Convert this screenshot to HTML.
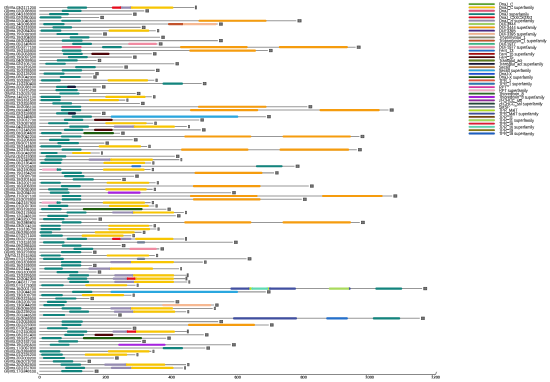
<!DOCTYPE html><html><head><meta charset="utf-8"><style>html,body{margin:0;padding:0;background:#fff;}svg{display:block;}text{font-family:"Liberation Sans",Arial,sans-serif;text-rendering:geometricPrecision;}</style></head><body>
<svg width="550" height="382" viewBox="0 0 550 382">
<rect width="550" height="382" fill="#fff"/>
<g font-size="4.0" fill="#222" stroke="#222" stroke-width="0.07" text-anchor="end">
<text transform="matrix(0.945 0.0047 0 1 36.0 9.00)">Glyma.03G171200</text>
<text transform="matrix(0.945 0.0047 0 1 36.0 12.31)">Glyma.02G038800</text>
<text transform="matrix(0.945 0.0047 0 1 36.0 15.61)">Glyma.04G188900</text>
<text transform="matrix(0.945 0.0047 0 1 36.0 18.92)">Glyma.02G260300</text>
<text transform="matrix(0.945 0.0047 0 1 36.0 22.22)">Glyma.02G045600</text>
<text transform="matrix(0.945 0.0047 0 1 36.0 25.53)">Glyma.14G036300</text>
<text transform="matrix(0.945 0.0047 0 1 36.0 28.84)">Glyma.03G218000</text>
<text transform="matrix(0.945 0.0047 0 1 36.0 32.14)">Glyma.19G064300</text>
<text transform="matrix(0.945 0.0047 0 1 36.0 35.45)">Glyma.19G032900</text>
<text transform="matrix(0.945 0.0047 0 1 36.0 38.75)">Glyma.19G204000</text>
<text transform="matrix(0.945 0.0047 0 1 36.0 42.06)">Glyma.08G024800</text>
<text transform="matrix(0.945 0.0047 0 1 36.0 45.37)">Glyma.05G149600</text>
<text transform="matrix(0.945 0.0047 0 1 36.0 48.67)">Glyma.05G277100</text>
<text transform="matrix(0.945 0.0047 0 1 36.0 51.98)">Glyma.19G158800</text>
<text transform="matrix(0.945 0.0047 0 1 36.0 55.28)">Glyma.06G053900</text>
<text transform="matrix(0.945 0.0047 0 1 36.0 58.59)">Glyma.19G097500</text>
<text transform="matrix(0.945 0.0047 0 1 36.0 61.90)">Glyma.04G033900</text>
<text transform="matrix(0.945 0.0047 0 1 36.0 65.20)">Glyma.02G106700</text>
<text transform="matrix(0.945 0.0047 0 1 36.0 68.51)">Glyma.18G219500</text>
<text transform="matrix(0.945 0.0047 0 1 36.0 71.81)">Glyma.15G233500</text>
<text transform="matrix(0.945 0.0047 0 1 36.0 75.12)">Glyma.10G128200</text>
<text transform="matrix(0.945 0.0047 0 1 36.0 78.43)">Glyma.08G042900</text>
<text transform="matrix(0.945 0.0047 0 1 36.0 81.73)">Glyma.10G269700</text>
<text transform="matrix(0.945 0.0047 0 1 36.0 85.04)">Glyma.11G230400</text>
<text transform="matrix(0.945 0.0047 0 1 36.0 88.34)">Glyma.20G038100</text>
<text transform="matrix(0.945 0.0047 0 1 36.0 91.65)">Glyma.17G215200</text>
<text transform="matrix(0.945 0.0047 0 1 36.0 94.96)">Glyma.11G078700</text>
<text transform="matrix(0.945 0.0047 0 1 36.0 98.26)">Glyma.14G021100</text>
<text transform="matrix(0.945 0.0047 0 1 36.0 101.57)">Glyma.18G161500</text>
<text transform="matrix(0.945 0.0047 0 1 36.0 104.87)">Glyma.12G255900</text>
<text transform="matrix(0.945 0.0047 0 1 36.0 108.18)">Glyma.15G036100</text>
<text transform="matrix(0.945 0.0047 0 1 36.0 111.49)">Glyma.09G243100</text>
<text transform="matrix(0.945 0.0047 0 1 36.0 114.79)">Glyma.02G159900</text>
<text transform="matrix(0.945 0.0047 0 1 36.0 118.10)">Glyma.15G146600</text>
<text transform="matrix(0.945 0.0047 0 1 36.0 121.40)">Glyma.12G012700</text>
<text transform="matrix(0.945 0.0047 0 1 36.0 124.71)">Glyma.12G087900</text>
<text transform="matrix(0.945 0.0047 0 1 36.0 128.02)">Glyma.04G253000</text>
<text transform="matrix(0.945 0.0047 0 1 36.0 131.32)">Glyma.07G148200</text>
<text transform="matrix(0.945 0.0047 0 1 36.0 134.63)">Glyma.08G204600</text>
<text transform="matrix(0.945 0.0047 0 1 36.0 137.93)">Glyma.16G042200</text>
<text transform="matrix(0.945 0.0047 0 1 36.0 141.24)">Glyma.15G206800</text>
<text transform="matrix(0.945 0.0047 0 1 36.0 144.55)">Glyma.09G071600</text>
<text transform="matrix(0.945 0.0047 0 1 36.0 147.85)">Glyma.18G143600</text>
<text transform="matrix(0.945 0.0047 0 1 36.0 151.16)">Glyma.12G195300</text>
<text transform="matrix(0.945 0.0047 0 1 36.0 154.46)">Glyma.05G043200</text>
<text transform="matrix(0.945 0.0047 0 1 36.0 157.77)">Glyma.05G119300</text>
<text transform="matrix(0.945 0.0047 0 1 36.0 161.08)">Glyma.01G249900</text>
<text transform="matrix(0.945 0.0047 0 1 36.0 164.38)">Glyma.06G135400</text>
<text transform="matrix(0.945 0.0047 0 1 36.0 167.69)">Glyma.01G075600</text>
<text transform="matrix(0.945 0.0047 0 1 36.0 170.99)">Glyma.18G190900</text>
<text transform="matrix(0.945 0.0047 0 1 36.0 174.30)">Glyma.19G164200</text>
<text transform="matrix(0.945 0.0047 0 1 36.0 177.61)">Glyma.17G028700</text>
<text transform="matrix(0.945 0.0047 0 1 36.0 180.91)">Glyma.18G201600</text>
<text transform="matrix(0.945 0.0047 0 1 36.0 184.22)">Glyma.13G202100</text>
<text transform="matrix(0.945 0.0047 0 1 36.0 187.52)">Glyma.16G206000</text>
<text transform="matrix(0.945 0.0047 0 1 36.0 190.83)">Glyma.07G035300</text>
<text transform="matrix(0.945 0.0047 0 1 36.0 194.14)">Glyma.15G084100</text>
<text transform="matrix(0.945 0.0047 0 1 36.0 197.44)">Glyma.11G027100</text>
<text transform="matrix(0.945 0.0047 0 1 36.0 200.75)">Glyma.01G078800</text>
<text transform="matrix(0.945 0.0047 0 1 36.0 204.05)">Glyma.04G187900</text>
<text transform="matrix(0.945 0.0047 0 1 36.0 207.36)">Glyma.01G037300</text>
<text transform="matrix(0.945 0.0047 0 1 36.0 210.67)">Glyma.20G193200</text>
<text transform="matrix(0.945 0.0047 0 1 36.0 213.97)">Glyma.09G178900</text>
<text transform="matrix(0.945 0.0047 0 1 36.0 217.28)">Glyma.12G243100</text>
<text transform="matrix(0.945 0.0047 0 1 36.0 220.58)">Glyma.04G250700</text>
<text transform="matrix(0.945 0.0047 0 1 36.0 223.89)">Glyma.16G248400</text>
<text transform="matrix(0.945 0.0047 0 1 36.0 227.20)">Glyma.03G074100</text>
<text transform="matrix(0.945 0.0047 0 1 36.0 230.50)">Glyma.11G136700</text>
<text transform="matrix(0.945 0.0047 0 1 36.0 233.81)">Glyma.06G265000</text>
<text transform="matrix(0.945 0.0047 0 1 36.0 237.11)">Glyma.07G271500</text>
<text transform="matrix(0.945 0.0047 0 1 36.0 240.42)">Glyma.05G279000</text>
<text transform="matrix(0.945 0.0047 0 1 36.0 243.73)">Glyma.17G153100</text>
<text transform="matrix(0.945 0.0047 0 1 36.0 247.03)">Glyma.09G266500</text>
<text transform="matrix(0.945 0.0047 0 1 36.0 250.34)">Glyma.06G183300</text>
<text transform="matrix(0.945 0.0047 0 1 36.0 253.64)">Glyma.18G278800</text>
<text transform="matrix(0.945 0.0047 0 1 36.0 256.95)">Glyma.11G115900</text>
<text transform="matrix(0.945 0.0047 0 1 36.0 260.26)">Glyma.07G123600</text>
<text transform="matrix(0.945 0.0047 0 1 36.0 263.56)">Glyma.08G103800</text>
<text transform="matrix(0.945 0.0047 0 1 36.0 266.87)">Glyma.16G183000</text>
<text transform="matrix(0.945 0.0047 0 1 36.0 270.17)">Glyma.01G144700</text>
<text transform="matrix(0.945 0.0047 0 1 36.0 273.48)">Glyma.09G100900</text>
<text transform="matrix(0.945 0.0047 0 1 36.0 276.79)">Glyma.12G229500</text>
<text transform="matrix(0.945 0.0047 0 1 36.0 280.09)">Glyma.12G042300</text>
<text transform="matrix(0.945 0.0047 0 1 36.0 283.40)">Glyma.04G117700</text>
<text transform="matrix(0.945 0.0047 0 1 36.0 286.70)">Glyma.07G173300</text>
<text transform="matrix(0.945 0.0047 0 1 36.0 290.01)">Glyma.16G001700</text>
<text transform="matrix(0.945 0.0047 0 1 36.0 293.32)">Glyma.12G044100</text>
<text transform="matrix(0.945 0.0047 0 1 36.0 296.62)">Glyma.13G103700</text>
<text transform="matrix(0.945 0.0047 0 1 36.0 299.93)">Glyma.06G223500</text>
<text transform="matrix(0.945 0.0047 0 1 36.0 303.23)">Glyma.03G203700</text>
<text transform="matrix(0.945 0.0047 0 1 36.0 306.54)">Glyma.13G044200</text>
<text transform="matrix(0.945 0.0047 0 1 36.0 309.85)">Glyma.06G066000</text>
<text transform="matrix(0.945 0.0047 0 1 36.0 313.15)">Glyma.05G239200</text>
<text transform="matrix(0.945 0.0047 0 1 36.0 316.46)">Glyma.20G243500</text>
<text transform="matrix(0.945 0.0047 0 1 36.0 319.76)">Glyma.05G068000</text>
<text transform="matrix(0.945 0.0047 0 1 36.0 323.07)">Glyma.01G053800</text>
<text transform="matrix(0.945 0.0047 0 1 36.0 326.38)">Glyma.05G223300</text>
<text transform="matrix(0.945 0.0047 0 1 36.0 329.68)">Glyma.07G015400</text>
<text transform="matrix(0.945 0.0047 0 1 36.0 332.99)">Glyma.07G150800</text>
<text transform="matrix(0.945 0.0047 0 1 36.0 336.29)">Glyma.08G167400</text>
<text transform="matrix(0.945 0.0047 0 1 36.0 339.60)">Glyma.18G215200</text>
<text transform="matrix(0.945 0.0047 0 1 36.0 342.91)">Glyma.02G182700</text>
<text transform="matrix(0.945 0.0047 0 1 36.0 346.21)">Glyma.19G265600</text>
<text transform="matrix(0.945 0.0047 0 1 36.0 349.52)">Glyma.17G067800</text>
<text transform="matrix(0.945 0.0047 0 1 36.0 352.82)">Glyma.05G269800</text>
<text transform="matrix(0.945 0.0047 0 1 36.0 356.13)">Glyma.01G226200</text>
<text transform="matrix(0.945 0.0047 0 1 36.0 359.44)">Glyma.20G003200</text>
<text transform="matrix(0.945 0.0047 0 1 36.0 362.74)">Glyma.06G073700</text>
<text transform="matrix(0.945 0.0047 0 1 36.0 366.05)">Glyma.20G062800</text>
<text transform="matrix(0.945 0.0047 0 1 36.0 369.35)">Glyma.02G167800</text>
<text transform="matrix(0.945 0.0047 0 1 36.0 372.66)">Glyma.17G248100</text>
</g>
<g stroke="#979797" stroke-width="1.05">
<line x1="39.3" y1="7.55" x2="194.3" y2="7.55"/>
<line x1="39.3" y1="10.86" x2="144.2" y2="10.86"/>
<line x1="39.3" y1="14.16" x2="131.9" y2="14.16"/>
<line x1="39.3" y1="17.47" x2="99.1" y2="17.47"/>
<line x1="39.3" y1="20.77" x2="296.3" y2="20.77"/>
<line x1="39.3" y1="24.08" x2="217.8" y2="24.08"/>
<line x1="39.3" y1="27.39" x2="140.7" y2="27.39"/>
<line x1="39.3" y1="30.69" x2="155.8" y2="30.69"/>
<line x1="39.3" y1="34.00" x2="101.9" y2="34.00"/>
<line x1="39.3" y1="37.30" x2="160.1" y2="37.30"/>
<line x1="39.3" y1="40.61" x2="217.8" y2="40.61"/>
<line x1="39.3" y1="43.92" x2="157.6" y2="43.92"/>
<line x1="39.3" y1="47.22" x2="355.6" y2="47.22"/>
<line x1="39.3" y1="50.53" x2="267.8" y2="50.53"/>
<line x1="39.3" y1="53.83" x2="151.8" y2="53.83"/>
<line x1="39.3" y1="57.14" x2="131.9" y2="57.14"/>
<line x1="39.3" y1="60.45" x2="96.6" y2="60.45"/>
<line x1="39.3" y1="63.75" x2="174.3" y2="63.75"/>
<line x1="39.3" y1="67.06" x2="123.2" y2="67.06"/>
<line x1="39.3" y1="70.36" x2="154.8" y2="70.36"/>
<line x1="39.3" y1="73.67" x2="94.1" y2="73.67"/>
<line x1="39.3" y1="76.98" x2="92.1" y2="76.98"/>
<line x1="39.3" y1="80.28" x2="154.3" y2="80.28"/>
<line x1="39.3" y1="83.59" x2="201.7" y2="83.59"/>
<line x1="39.3" y1="86.89" x2="100.8" y2="86.89"/>
<line x1="39.3" y1="90.20" x2="91.6" y2="90.20"/>
<line x1="39.3" y1="93.51" x2="135.7" y2="93.51"/>
<line x1="39.3" y1="96.81" x2="151.8" y2="96.81"/>
<line x1="39.3" y1="100.12" x2="125.2" y2="100.12"/>
<line x1="39.3" y1="103.42" x2="139.9" y2="103.42"/>
<line x1="39.3" y1="106.73" x2="307.3" y2="106.73"/>
<line x1="39.3" y1="110.04" x2="388.5" y2="110.04"/>
<line x1="39.3" y1="113.34" x2="100.8" y2="113.34"/>
<line x1="39.3" y1="116.65" x2="265.9" y2="116.65"/>
<line x1="39.3" y1="119.95" x2="199.2" y2="119.95"/>
<line x1="39.3" y1="123.26" x2="153.1" y2="123.26"/>
<line x1="39.3" y1="126.57" x2="186.8" y2="126.57"/>
<line x1="39.3" y1="129.87" x2="200.8" y2="129.87"/>
<line x1="39.3" y1="133.18" x2="120.0" y2="133.18"/>
<line x1="39.3" y1="136.48" x2="359.4" y2="136.48"/>
<line x1="39.3" y1="139.79" x2="132.7" y2="139.79"/>
<line x1="39.3" y1="143.10" x2="104.3" y2="143.10"/>
<line x1="39.3" y1="146.40" x2="147.1" y2="146.40"/>
<line x1="39.3" y1="149.71" x2="356.8" y2="149.71"/>
<line x1="39.3" y1="153.01" x2="99.8" y2="153.01"/>
<line x1="39.3" y1="156.32" x2="174.8" y2="156.32"/>
<line x1="39.3" y1="159.63" x2="179.3" y2="159.63"/>
<line x1="39.3" y1="162.93" x2="151.1" y2="162.93"/>
<line x1="39.3" y1="166.24" x2="294.5" y2="166.24"/>
<line x1="39.3" y1="169.54" x2="150.6" y2="169.54"/>
<line x1="39.3" y1="172.85" x2="274.0" y2="172.85"/>
<line x1="39.3" y1="176.16" x2="134.0" y2="176.16"/>
<line x1="39.3" y1="179.46" x2="121.1" y2="179.46"/>
<line x1="39.3" y1="182.77" x2="155.6" y2="182.77"/>
<line x1="39.3" y1="186.07" x2="308.8" y2="186.07"/>
<line x1="39.3" y1="189.38" x2="152.6" y2="189.38"/>
<line x1="39.3" y1="192.69" x2="231.0" y2="192.69"/>
<line x1="39.3" y1="195.99" x2="392.2" y2="195.99"/>
<line x1="39.3" y1="199.30" x2="301.8" y2="199.30"/>
<line x1="39.3" y1="202.60" x2="150.6" y2="202.60"/>
<line x1="39.3" y1="205.91" x2="154.3" y2="205.91"/>
<line x1="39.3" y1="209.22" x2="166.3" y2="209.22"/>
<line x1="39.3" y1="212.52" x2="183.8" y2="212.52"/>
<line x1="39.3" y1="215.83" x2="175.8" y2="215.83"/>
<line x1="39.3" y1="219.13" x2="97.3" y2="219.13"/>
<line x1="39.3" y1="222.44" x2="359.8" y2="222.44"/>
<line x1="39.3" y1="225.75" x2="152.4" y2="225.75"/>
<line x1="39.3" y1="229.05" x2="156.3" y2="229.05"/>
<line x1="39.3" y1="232.36" x2="141.6" y2="232.36"/>
<line x1="39.3" y1="235.66" x2="131.2" y2="235.66"/>
<line x1="39.3" y1="238.97" x2="184.3" y2="238.97"/>
<line x1="39.3" y1="242.28" x2="232.8" y2="242.28"/>
<line x1="39.3" y1="245.58" x2="120.7" y2="245.58"/>
<line x1="39.3" y1="248.89" x2="159.3" y2="248.89"/>
<line x1="39.3" y1="252.19" x2="91.9" y2="252.19"/>
<line x1="39.3" y1="255.50" x2="154.8" y2="255.50"/>
<line x1="39.3" y1="258.81" x2="246.5" y2="258.81"/>
<line x1="39.3" y1="262.11" x2="202.8" y2="262.11"/>
<line x1="39.3" y1="265.42" x2="91.9" y2="265.42"/>
<line x1="39.3" y1="268.72" x2="179.0" y2="268.72"/>
<line x1="39.3" y1="272.03" x2="96.6" y2="272.03"/>
<line x1="39.3" y1="275.34" x2="186.6" y2="275.34"/>
<line x1="39.3" y1="278.64" x2="185.4" y2="278.64"/>
<line x1="39.3" y1="281.95" x2="187.2" y2="281.95"/>
<line x1="39.3" y1="285.25" x2="135.5" y2="285.25"/>
<line x1="39.3" y1="288.56" x2="422.1" y2="288.56"/>
<line x1="39.3" y1="291.87" x2="265.8" y2="291.87"/>
<line x1="39.3" y1="295.17" x2="131.4" y2="295.17"/>
<line x1="39.3" y1="298.48" x2="89.3" y2="298.48"/>
<line x1="39.3" y1="301.78" x2="174.4" y2="301.78"/>
<line x1="39.3" y1="305.09" x2="214.0" y2="305.09"/>
<line x1="39.3" y1="308.40" x2="212.7" y2="308.40"/>
<line x1="39.3" y1="311.70" x2="186.1" y2="311.70"/>
<line x1="39.3" y1="315.01" x2="117.0" y2="315.01"/>
<line x1="39.3" y1="318.31" x2="419.8" y2="318.31"/>
<line x1="39.3" y1="321.62" x2="218.2" y2="321.62"/>
<line x1="39.3" y1="324.93" x2="268.8" y2="324.93"/>
<line x1="39.3" y1="328.23" x2="131.6" y2="328.23"/>
<line x1="39.3" y1="331.54" x2="186.8" y2="331.54"/>
<line x1="39.3" y1="334.84" x2="203.8" y2="334.84"/>
<line x1="39.3" y1="338.15" x2="166.1" y2="338.15"/>
<line x1="39.3" y1="341.46" x2="141.1" y2="341.46"/>
<line x1="39.3" y1="344.76" x2="230.8" y2="344.76"/>
<line x1="39.3" y1="348.07" x2="205.2" y2="348.07"/>
<line x1="39.3" y1="351.37" x2="151.3" y2="351.37"/>
<line x1="39.3" y1="354.68" x2="135.3" y2="354.68"/>
<line x1="39.3" y1="357.99" x2="113.9" y2="357.99"/>
<line x1="39.3" y1="361.29" x2="86.4" y2="361.29"/>
<line x1="39.3" y1="364.60" x2="186.0" y2="364.60"/>
<line x1="39.3" y1="367.90" x2="182.9" y2="367.90"/>
<line x1="39.3" y1="371.21" x2="93.5" y2="371.21"/>
</g>
<rect x="67.1" y="6.45" width="20.0" height="2.2" rx="1" fill="#12847d"/>
<rect x="111.8" y="6.45" width="9.3" height="2.2" rx="1" fill="#e60a1a"/>
<rect x="119.9" y="6.45" width="1.2" height="2.2" fill="#e60a1a"/>
<rect x="121.1" y="6.45" width="10.0" height="2.2" rx="1" fill="#958bb0"/>
<rect x="121.1" y="6.45" width="1.2" height="2.2" fill="#958bb0"/>
<rect x="129.9" y="6.45" width="1.2" height="2.2" fill="#958bb0"/>
<rect x="131.1" y="6.45" width="42.4" height="2.2" rx="1" fill="#f7c502"/>
<rect x="131.1" y="6.45" width="1.2" height="2.2" fill="#f7c502"/>
<rect x="194.95" y="5.55" width="1.9" height="3.8" fill="#5e5e5e"/>
<rect x="61.7" y="9.76" width="19.9" height="2.2" rx="1" fill="#12847d"/>
<rect x="145.4" y="9.26" width="3.6" height="3.2" fill="#545454"/>
<path d="M147.20 9.26v3.2M145.4 10.86h3.6" stroke="#959595" stroke-width="0.45"/>
<rect x="49.0" y="13.06" width="19.9" height="2.2" rx="1" fill="#12847d"/>
<rect x="133.1" y="12.56" width="3.5" height="3.2" fill="#545454"/>
<path d="M134.85 12.56v3.2M133.1 14.16h3.5" stroke="#959595" stroke-width="0.45"/>
<rect x="39.7" y="16.37" width="21.9" height="2.2" rx="1" fill="#12847d"/>
<rect x="100.3" y="15.87" width="3.6" height="3.2" fill="#545454"/>
<path d="M102.10 15.87v3.2M100.3 17.47h3.6" stroke="#959595" stroke-width="0.45"/>
<rect x="61.2" y="19.67" width="19.9" height="2.2" rx="1" fill="#12847d"/>
<rect x="198.4" y="19.67" width="68.2" height="2.2" rx="1" fill="#f59c0e"/>
<rect x="297.5" y="19.17" width="4.0" height="3.2" fill="#545454"/>
<path d="M299.50 19.17v3.2M297.5 20.77h4.0" stroke="#959595" stroke-width="0.45"/>
<rect x="43.2" y="22.98" width="21.4" height="2.2" rx="1" fill="#12847d"/>
<rect x="168.0" y="22.98" width="15.0" height="2.2" rx="1" fill="#c2532c"/>
<rect x="181.8" y="22.98" width="1.2" height="2.2" fill="#c2532c"/>
<rect x="183.0" y="22.98" width="33.6" height="2.2" rx="1" fill="#f6b892"/>
<rect x="183.0" y="22.98" width="1.2" height="2.2" fill="#f6b892"/>
<rect x="219.0" y="22.48" width="3.8" height="3.2" fill="#545454"/>
<path d="M220.90 22.48v3.2M219.0 24.08h3.8" stroke="#959595" stroke-width="0.45"/>
<rect x="52.4" y="26.29" width="19.7" height="2.2" rx="1" fill="#12847d"/>
<rect x="141.9" y="25.79" width="3.6" height="3.2" fill="#545454"/>
<path d="M143.70 25.79v3.2M141.9 27.39h3.6" stroke="#959595" stroke-width="0.45"/>
<rect x="40.5" y="29.59" width="20.9" height="2.2" rx="1" fill="#12847d"/>
<rect x="108.5" y="29.59" width="40.8" height="2.2" rx="1" fill="#f7c502"/>
<rect x="157.0" y="29.09" width="2.2" height="3.2" fill="#545454"/>
<path d="M158.10 29.09v3.2M157.0 30.69h2.2" stroke="#959595" stroke-width="0.45"/>
<rect x="56.4" y="32.90" width="21.9" height="2.2" rx="1" fill="#12847d"/>
<rect x="103.1" y="32.40" width="3.8" height="3.2" fill="#545454"/>
<path d="M105.00 32.40v3.2M103.1 34.00h3.8" stroke="#959595" stroke-width="0.45"/>
<rect x="69.6" y="36.20" width="19.9" height="2.2" rx="1" fill="#12847d"/>
<rect x="161.3" y="35.70" width="3.5" height="3.2" fill="#545454"/>
<path d="M163.05 35.70v3.2M161.3 37.30h3.5" stroke="#959595" stroke-width="0.45"/>
<rect x="61.7" y="39.51" width="20.9" height="2.2" rx="1" fill="#12847d"/>
<rect x="219.0" y="39.01" width="3.8" height="3.2" fill="#545454"/>
<path d="M220.90 39.01v3.2M219.0 40.61h3.8" stroke="#959595" stroke-width="0.45"/>
<rect x="72.1" y="42.82" width="19.9" height="2.2" rx="1" fill="#12847d"/>
<rect x="128.2" y="42.82" width="28.6" height="2.2" rx="1" fill="#f08ba2"/>
<rect x="158.8" y="42.32" width="3.7" height="3.2" fill="#545454"/>
<path d="M160.65 42.32v3.2M158.8 43.92h3.7" stroke="#959595" stroke-width="0.45"/>
<rect x="61.7" y="46.12" width="19.9" height="2.2" rx="1" fill="#e6557b"/>
<rect x="102.0" y="46.12" width="19.9" height="2.2" rx="1" fill="#12847d"/>
<rect x="180.0" y="46.12" width="67.7" height="2.2" rx="1" fill="#f59c0e"/>
<rect x="278.8" y="46.12" width="69.1" height="2.2" rx="1" fill="#f59c0e"/>
<rect x="356.8" y="45.62" width="3.8" height="3.2" fill="#545454"/>
<path d="M358.70 45.62v3.2M356.8 47.22h3.8" stroke="#959595" stroke-width="0.45"/>
<rect x="61.7" y="49.43" width="19.9" height="2.2" rx="1" fill="#12847d"/>
<rect x="189.2" y="49.43" width="66.8" height="2.2" rx="1" fill="#f59c0e"/>
<rect x="269.0" y="48.93" width="3.6" height="3.2" fill="#545454"/>
<path d="M270.80 48.93v3.2M269.0 50.53h3.6" stroke="#959595" stroke-width="0.45"/>
<rect x="62.9" y="52.73" width="19.9" height="2.2" rx="1" fill="#12847d"/>
<rect x="91.3" y="52.73" width="18.2" height="2.2" rx="1" fill="#4e0509"/>
<rect x="153.0" y="52.23" width="3.5" height="3.2" fill="#545454"/>
<path d="M154.75 52.23v3.2M153.0 53.83h3.5" stroke="#959595" stroke-width="0.45"/>
<rect x="67.9" y="56.04" width="19.9" height="2.2" rx="1" fill="#12847d"/>
<rect x="133.1" y="55.54" width="3.5" height="3.2" fill="#545454"/>
<path d="M134.85 55.54v3.2M133.1 57.14h3.5" stroke="#959595" stroke-width="0.45"/>
<rect x="56.7" y="59.35" width="21.1" height="2.2" rx="1" fill="#12847d"/>
<rect x="97.8" y="58.85" width="3.4" height="3.2" fill="#545454"/>
<path d="M99.50 58.85v3.2M97.8 60.45h3.4" stroke="#959595" stroke-width="0.45"/>
<rect x="45.2" y="62.65" width="20.7" height="2.2" rx="1" fill="#12847d"/>
<rect x="175.5" y="62.15" width="3.4" height="3.2" fill="#545454"/>
<path d="M177.20 62.15v3.2M175.5 63.75h3.4" stroke="#959595" stroke-width="0.45"/>
<rect x="75.1" y="65.96" width="20.7" height="2.2" rx="1" fill="#12847d"/>
<rect x="124.4" y="65.46" width="3.5" height="3.2" fill="#545454"/>
<path d="M126.15 65.46v3.2M124.4 67.06h3.5" stroke="#959595" stroke-width="0.45"/>
<rect x="61.7" y="69.26" width="20.4" height="2.2" rx="1" fill="#12847d"/>
<rect x="156.0" y="68.76" width="3.5" height="3.2" fill="#545454"/>
<path d="M157.75 68.76v3.2M156.0 70.36h3.5" stroke="#959595" stroke-width="0.45"/>
<rect x="43.5" y="72.57" width="21.1" height="2.2" rx="1" fill="#12847d"/>
<rect x="95.3" y="72.07" width="3.4" height="3.2" fill="#545454"/>
<path d="M97.00 72.07v3.2M95.3 73.67h3.4" stroke="#959595" stroke-width="0.45"/>
<rect x="59.7" y="75.88" width="21.1" height="2.2" rx="1" fill="#12847d"/>
<rect x="93.3" y="75.38" width="3.4" height="3.2" fill="#545454"/>
<path d="M95.00 75.38v3.2M93.3 76.98h3.4" stroke="#959595" stroke-width="0.45"/>
<rect x="41.0" y="79.18" width="19.9" height="2.2" rx="1" fill="#12847d"/>
<rect x="107.5" y="79.18" width="40.6" height="2.2" rx="1" fill="#f7c502"/>
<rect x="155.5" y="78.68" width="2.2" height="3.2" fill="#545454"/>
<path d="M156.60 78.68v3.2M155.5 80.28h2.2" stroke="#959595" stroke-width="0.45"/>
<rect x="162.5" y="82.49" width="20.5" height="2.2" rx="1" fill="#12847d"/>
<rect x="202.9" y="81.99" width="3.5" height="3.2" fill="#545454"/>
<path d="M204.65 81.99v3.2M202.9 83.59h3.5" stroke="#959595" stroke-width="0.45"/>
<rect x="56.0" y="85.79" width="19.9" height="2.2" rx="1" fill="#12847d"/>
<rect x="67.1" y="85.79" width="8.8" height="2.2" rx="1" fill="#161537"/>
<rect x="102.0" y="85.29" width="3.5" height="3.2" fill="#545454"/>
<path d="M103.75 85.29v3.2M102.0 86.89h3.5" stroke="#959595" stroke-width="0.45"/>
<rect x="55.4" y="89.10" width="22.4" height="2.2" rx="1" fill="#12847d"/>
<rect x="92.8" y="88.60" width="3.4" height="3.2" fill="#545454"/>
<path d="M94.50 88.60v3.2M92.8 90.20h3.4" stroke="#959595" stroke-width="0.45"/>
<rect x="59.2" y="92.41" width="20.4" height="2.2" rx="1" fill="#12847d"/>
<rect x="136.9" y="91.91" width="3.5" height="3.2" fill="#545454"/>
<path d="M138.65 91.91v3.2M136.9 93.51h3.5" stroke="#959595" stroke-width="0.45"/>
<rect x="40.5" y="95.71" width="20.4" height="2.2" rx="1" fill="#12847d"/>
<rect x="105.2" y="95.71" width="40.4" height="2.2" rx="1" fill="#f7c502"/>
<rect x="153.0" y="95.21" width="2.5" height="3.2" fill="#545454"/>
<path d="M154.25 95.21v3.2M153.0 96.81h2.5" stroke="#959595" stroke-width="0.45"/>
<rect x="40.5" y="99.02" width="20.4" height="2.2" rx="1" fill="#12847d"/>
<rect x="89.0" y="99.02" width="30.0" height="2.2" rx="1" fill="#f7c502"/>
<rect x="126.4" y="98.52" width="2.0" height="3.2" fill="#545454"/>
<path d="M127.40 98.52v3.2M126.4 100.12h2.0" stroke="#959595" stroke-width="0.45"/>
<rect x="52.2" y="102.32" width="19.9" height="2.2" rx="1" fill="#12847d"/>
<rect x="141.1" y="101.82" width="3.5" height="3.2" fill="#545454"/>
<path d="M142.85 101.82v3.2M141.1 103.42h3.5" stroke="#959595" stroke-width="0.45"/>
<rect x="60.9" y="105.63" width="20.4" height="2.2" rx="1" fill="#12847d"/>
<rect x="197.9" y="105.63" width="68.7" height="2.2" rx="1" fill="#f59c0e"/>
<rect x="308.5" y="105.13" width="3.7" height="3.2" fill="#545454"/>
<path d="M310.35 105.13v3.2M308.5 106.73h3.7" stroke="#959595" stroke-width="0.45"/>
<rect x="60.9" y="108.94" width="20.4" height="2.2" rx="1" fill="#12847d"/>
<rect x="190.0" y="108.94" width="68.2" height="2.2" rx="1" fill="#f59c0e"/>
<rect x="319.5" y="108.94" width="60.2" height="2.2" rx="1" fill="#f59c0e"/>
<rect x="389.7" y="108.44" width="4.0" height="3.2" fill="#545454"/>
<path d="M391.70 108.44v3.2M389.7 110.04h4.0" stroke="#959595" stroke-width="0.45"/>
<rect x="56.0" y="112.24" width="19.9" height="2.2" rx="1" fill="#12847d"/>
<rect x="67.9" y="112.24" width="8.0" height="2.2" rx="1" fill="#161537"/>
<rect x="102.0" y="111.74" width="3.5" height="3.2" fill="#545454"/>
<path d="M103.75 111.74v3.2M102.0 113.34h3.5" stroke="#959595" stroke-width="0.45"/>
<rect x="71.6" y="115.55" width="20.4" height="2.2" rx="1" fill="#12847d"/>
<rect x="110.7" y="115.55" width="127.6" height="2.2" rx="1" fill="#2aa7df"/>
<rect x="267.1" y="115.05" width="3.7" height="3.2" fill="#545454"/>
<path d="M268.95 115.05v3.2M267.1 116.65h3.7" stroke="#959595" stroke-width="0.45"/>
<rect x="63.9" y="118.85" width="19.4" height="2.2" rx="1" fill="#12847d"/>
<rect x="94.0" y="118.85" width="18.7" height="2.2" rx="1" fill="#4e0509"/>
<rect x="200.4" y="118.35" width="3.5" height="3.2" fill="#545454"/>
<path d="M202.15 118.35v3.2M200.4 119.95h3.5" stroke="#959595" stroke-width="0.45"/>
<rect x="48.0" y="122.16" width="20.4" height="2.2" rx="1" fill="#12847d"/>
<rect x="105.2" y="122.16" width="41.6" height="2.2" rx="1" fill="#f7c502"/>
<rect x="154.3" y="121.66" width="2.5" height="3.2" fill="#545454"/>
<path d="M155.55 121.66v3.2M154.3 123.26h2.5" stroke="#959595" stroke-width="0.45"/>
<rect x="69.1" y="125.47" width="19.9" height="2.2" rx="1" fill="#12847d"/>
<rect x="113.7" y="125.47" width="20.2" height="2.2" rx="1" fill="#958bb0"/>
<rect x="132.7" y="125.47" width="1.2" height="2.2" fill="#958bb0"/>
<rect x="133.9" y="125.47" width="41.1" height="2.2" rx="1" fill="#f7c502"/>
<rect x="133.9" y="125.47" width="1.2" height="2.2" fill="#f7c502"/>
<rect x="188.0" y="124.97" width="1.9" height="3.2" fill="#545454"/>
<path d="M188.95 124.97v3.2M188.0 126.57h1.9" stroke="#959595" stroke-width="0.45"/>
<rect x="63.9" y="128.77" width="19.4" height="2.2" rx="1" fill="#12847d"/>
<rect x="94.0" y="128.77" width="18.7" height="2.2" rx="1" fill="#4e0509"/>
<rect x="202.0" y="128.27" width="3.6" height="3.2" fill="#545454"/>
<path d="M203.80 128.27v3.2M202.0 129.87h3.6" stroke="#959595" stroke-width="0.45"/>
<rect x="41.0" y="132.08" width="20.7" height="2.2" rx="1" fill="#12847d"/>
<rect x="83.3" y="132.08" width="30.7" height="2.2" rx="1" fill="#1d5c0e"/>
<rect x="121.2" y="131.58" width="3.5" height="3.2" fill="#545454"/>
<path d="M122.95 131.58v3.2M121.2 133.18h3.5" stroke="#959595" stroke-width="0.45"/>
<rect x="60.9" y="135.38" width="20.7" height="2.2" rx="1" fill="#12847d"/>
<rect x="184.2" y="135.38" width="67.2" height="2.2" rx="1" fill="#f59c0e"/>
<rect x="282.5" y="135.38" width="68.5" height="2.2" rx="1" fill="#f59c0e"/>
<rect x="360.6" y="134.88" width="3.7" height="3.2" fill="#545454"/>
<path d="M362.45 134.88v3.2M360.6 136.48h3.7" stroke="#959595" stroke-width="0.45"/>
<rect x="49.0" y="138.69" width="20.6" height="2.2" rx="1" fill="#12847d"/>
<rect x="133.9" y="138.19" width="3.7" height="3.2" fill="#545454"/>
<path d="M135.75 138.19v3.2M133.9 139.79h3.7" stroke="#959595" stroke-width="0.45"/>
<rect x="57.3" y="142.00" width="21.7" height="2.2" rx="1" fill="#12847d"/>
<rect x="105.5" y="141.50" width="3.4" height="3.2" fill="#545454"/>
<path d="M107.20 141.50v3.2M105.5 143.10h3.4" stroke="#959595" stroke-width="0.45"/>
<rect x="40.3" y="145.30" width="21.2" height="2.2" rx="1" fill="#12847d"/>
<rect x="98.6" y="145.30" width="42.6" height="2.2" rx="1" fill="#f7c502"/>
<rect x="148.3" y="144.80" width="2.4" height="3.2" fill="#545454"/>
<path d="M149.50 144.80v3.2M148.3 146.40h2.4" stroke="#959595" stroke-width="0.45"/>
<rect x="61.5" y="148.61" width="20.1" height="2.2" rx="1" fill="#12847d"/>
<rect x="181.0" y="148.61" width="67.5" height="2.2" rx="1" fill="#f59c0e"/>
<rect x="279.5" y="148.61" width="69.6" height="2.2" rx="1" fill="#f59c0e"/>
<rect x="358.0" y="148.11" width="3.8" height="3.2" fill="#545454"/>
<path d="M359.90 148.11v3.2M358.0 149.71h3.8" stroke="#959595" stroke-width="0.45"/>
<rect x="40.7" y="151.91" width="17.0" height="2.2" rx="1" fill="#12847d"/>
<rect x="72.0" y="151.91" width="18.8" height="2.2" rx="1" fill="#f7c502"/>
<rect x="101.0" y="151.41" width="1.9" height="3.2" fill="#545454"/>
<path d="M101.95 151.41v3.2M101.0 153.01h1.9" stroke="#959595" stroke-width="0.45"/>
<rect x="45.5" y="155.22" width="20.8" height="2.2" rx="1" fill="#12847d"/>
<rect x="176.0" y="154.72" width="3.4" height="3.2" fill="#545454"/>
<path d="M177.70 154.72v3.2M176.0 156.32h3.4" stroke="#959595" stroke-width="0.45"/>
<rect x="44.3" y="158.53" width="18.2" height="2.2" rx="1" fill="#12847d"/>
<rect x="88.5" y="158.53" width="22.0" height="2.2" rx="1" fill="#958bb0"/>
<rect x="109.3" y="158.53" width="1.2" height="2.2" fill="#958bb0"/>
<rect x="110.5" y="158.53" width="42.5" height="2.2" rx="1" fill="#f7c502"/>
<rect x="110.5" y="158.53" width="1.2" height="2.2" fill="#f7c502"/>
<rect x="180.5" y="158.03" width="1.7" height="3.2" fill="#545454"/>
<path d="M181.35 158.03v3.2M180.5 159.63h1.7" stroke="#959595" stroke-width="0.45"/>
<rect x="40.3" y="161.83" width="21.2" height="2.2" rx="1" fill="#12847d"/>
<rect x="103.4" y="161.83" width="41.8" height="2.2" rx="1" fill="#f7c502"/>
<rect x="152.3" y="161.33" width="2.1" height="3.2" fill="#545454"/>
<path d="M153.35 161.33v3.2M152.3 162.93h2.1" stroke="#959595" stroke-width="0.45"/>
<rect x="131.3" y="165.14" width="9.9" height="2.2" rx="1" fill="#2470cc"/>
<rect x="255.9" y="165.14" width="26.7" height="2.2" rx="1" fill="#12847d"/>
<rect x="295.7" y="164.64" width="3.8" height="3.2" fill="#545454"/>
<path d="M297.60 164.64v3.2M295.7 166.24h3.8" stroke="#959595" stroke-width="0.45"/>
<rect x="41.9" y="168.44" width="14.9" height="2.2" rx="1" fill="#f4a8c6"/>
<rect x="55.6" y="168.44" width="1.2" height="2.2" fill="#f4a8c6"/>
<rect x="56.8" y="168.44" width="4.7" height="2.2" rx="1" fill="#12847d"/>
<rect x="56.8" y="168.44" width="1.2" height="2.2" fill="#12847d"/>
<rect x="102.9" y="168.44" width="41.8" height="2.2" rx="1" fill="#f7c502"/>
<rect x="151.8" y="167.94" width="2.2" height="3.2" fill="#545454"/>
<path d="M152.90 167.94v3.2M151.8 169.54h2.2" stroke="#959595" stroke-width="0.45"/>
<rect x="61.5" y="171.75" width="20.5" height="2.2" rx="1" fill="#12847d"/>
<rect x="194.5" y="171.75" width="68.0" height="2.2" rx="1" fill="#f59c0e"/>
<rect x="275.2" y="171.25" width="3.4" height="3.2" fill="#545454"/>
<path d="M276.90 171.25v3.2M275.2 172.85h3.4" stroke="#959595" stroke-width="0.45"/>
<rect x="64.0" y="175.06" width="20.5" height="2.2" rx="1" fill="#12847d"/>
<rect x="135.2" y="174.56" width="3.6" height="3.2" fill="#545454"/>
<path d="M137.00 174.56v3.2M135.2 176.16h3.6" stroke="#959595" stroke-width="0.45"/>
<rect x="72.6" y="178.36" width="21.3" height="2.2" rx="1" fill="#12847d"/>
<rect x="122.3" y="177.86" width="3.5" height="3.2" fill="#545454"/>
<path d="M124.05 177.86v3.2M122.3 179.46h3.5" stroke="#959595" stroke-width="0.45"/>
<rect x="40.5" y="181.67" width="20.4" height="2.2" rx="1" fill="#12847d"/>
<rect x="106.5" y="181.67" width="42.8" height="2.2" rx="1" fill="#f7c502"/>
<rect x="156.8" y="181.17" width="2.1" height="3.2" fill="#545454"/>
<path d="M157.85 181.17v3.2M156.8 182.77h2.1" stroke="#959595" stroke-width="0.45"/>
<rect x="60.9" y="184.97" width="19.9" height="2.2" rx="1" fill="#12847d"/>
<rect x="192.9" y="184.97" width="67.7" height="2.2" rx="1" fill="#f59c0e"/>
<rect x="310.0" y="184.47" width="3.7" height="3.2" fill="#545454"/>
<path d="M311.85 184.47v3.2M310.0 186.07h3.7" stroke="#959595" stroke-width="0.45"/>
<rect x="48.0" y="188.28" width="20.4" height="2.2" rx="1" fill="#12847d"/>
<rect x="105.2" y="188.28" width="41.6" height="2.2" rx="1" fill="#f7c502"/>
<rect x="153.8" y="187.78" width="2.2" height="3.2" fill="#545454"/>
<path d="M154.90 187.78v3.2M153.8 189.38h2.2" stroke="#959595" stroke-width="0.45"/>
<rect x="49.7" y="191.59" width="19.9" height="2.2" rx="1" fill="#12847d"/>
<rect x="107.7" y="191.59" width="32.9" height="2.2" rx="1" fill="#a722e0"/>
<rect x="232.2" y="191.09" width="3.6" height="3.2" fill="#545454"/>
<path d="M234.00 191.09v3.2M232.2 192.69h3.6" stroke="#959595" stroke-width="0.45"/>
<rect x="61.7" y="194.89" width="19.6" height="2.2" rx="1" fill="#12847d"/>
<rect x="189.9" y="194.89" width="67.7" height="2.2" rx="1" fill="#f59c0e"/>
<rect x="322.0" y="194.89" width="60.7" height="2.2" rx="1" fill="#f59c0e"/>
<rect x="393.4" y="194.39" width="3.8" height="3.2" fill="#545454"/>
<path d="M395.30 194.39v3.2M393.4 195.99h3.8" stroke="#959595" stroke-width="0.45"/>
<rect x="61.7" y="198.20" width="19.6" height="2.2" rx="1" fill="#12847d"/>
<rect x="192.9" y="198.20" width="67.7" height="2.2" rx="1" fill="#f59c0e"/>
<rect x="303.0" y="197.70" width="3.7" height="3.2" fill="#545454"/>
<path d="M304.85 197.70v3.2M303.0 199.30h3.7" stroke="#959595" stroke-width="0.45"/>
<rect x="41.5" y="201.50" width="15.2" height="2.2" rx="1" fill="#f4a8c6"/>
<rect x="55.5" y="201.50" width="1.2" height="2.2" fill="#f4a8c6"/>
<rect x="56.7" y="201.50" width="4.2" height="2.2" rx="1" fill="#12847d"/>
<rect x="56.7" y="201.50" width="1.2" height="2.2" fill="#12847d"/>
<rect x="102.7" y="201.50" width="42.4" height="2.2" rx="1" fill="#f7c502"/>
<rect x="151.8" y="201.00" width="2.2" height="3.2" fill="#545454"/>
<path d="M152.90 201.00v3.2M151.8 202.60h2.2" stroke="#959595" stroke-width="0.45"/>
<rect x="48.0" y="204.81" width="20.4" height="2.2" rx="1" fill="#12847d"/>
<rect x="109.0" y="204.81" width="39.8" height="2.2" rx="1" fill="#f7c502"/>
<rect x="155.5" y="204.31" width="2.2" height="3.2" fill="#545454"/>
<path d="M156.60 204.31v3.2M155.5 205.91h2.2" stroke="#959595" stroke-width="0.45"/>
<rect x="41.0" y="208.12" width="20.7" height="2.2" rx="1" fill="#12847d"/>
<rect x="82.8" y="208.12" width="59.8" height="2.2" rx="1" fill="#1d5c0e"/>
<rect x="167.5" y="207.62" width="3.3" height="3.2" fill="#545454"/>
<path d="M169.15 207.62v3.2M167.5 209.22h3.3" stroke="#959595" stroke-width="0.45"/>
<rect x="66.4" y="211.42" width="20.2" height="2.2" rx="1" fill="#12847d"/>
<rect x="112.0" y="211.42" width="21.1" height="2.2" rx="1" fill="#958bb0"/>
<rect x="131.9" y="211.42" width="1.2" height="2.2" fill="#958bb0"/>
<rect x="133.1" y="211.42" width="41.1" height="2.2" rx="1" fill="#f7c502"/>
<rect x="133.1" y="211.42" width="1.2" height="2.2" fill="#f7c502"/>
<rect x="185.0" y="210.92" width="1.9" height="3.2" fill="#545454"/>
<path d="M185.95 210.92v3.2M185.0 212.52h1.9" stroke="#959595" stroke-width="0.45"/>
<rect x="47.2" y="214.73" width="21.2" height="2.2" rx="1" fill="#12847d"/>
<rect x="177.0" y="214.23" width="3.5" height="3.2" fill="#545454"/>
<path d="M178.75 214.23v3.2M177.0 215.83h3.5" stroke="#959595" stroke-width="0.45"/>
<rect x="43.0" y="218.03" width="21.6" height="2.2" rx="1" fill="#12847d"/>
<rect x="98.5" y="217.53" width="3.5" height="3.2" fill="#545454"/>
<path d="M100.25 217.53v3.2M98.5 219.13h3.5" stroke="#959595" stroke-width="0.45"/>
<rect x="61.7" y="221.34" width="19.9" height="2.2" rx="1" fill="#12847d"/>
<rect x="184.2" y="221.34" width="67.2" height="2.2" rx="1" fill="#f59c0e"/>
<rect x="282.5" y="221.34" width="68.5" height="2.2" rx="1" fill="#f59c0e"/>
<rect x="361.0" y="220.84" width="3.8" height="3.2" fill="#545454"/>
<path d="M362.90 220.84v3.2M361.0 222.44h3.8" stroke="#959595" stroke-width="0.45"/>
<rect x="40.5" y="224.65" width="20.4" height="2.2" rx="1" fill="#12847d"/>
<rect x="108.2" y="224.65" width="41.1" height="2.2" rx="1" fill="#f7c502"/>
<rect x="153.6" y="224.15" width="2.4" height="3.2" fill="#545454"/>
<path d="M154.80 224.15v3.2M153.6 225.75h2.4" stroke="#959595" stroke-width="0.45"/>
<rect x="40.5" y="227.95" width="20.4" height="2.2" rx="1" fill="#12847d"/>
<rect x="108.2" y="227.95" width="41.9" height="2.2" rx="1" fill="#f7c502"/>
<rect x="157.5" y="227.45" width="2.1" height="3.2" fill="#545454"/>
<path d="M158.55 227.45v3.2M157.5 229.05h2.1" stroke="#959595" stroke-width="0.45"/>
<rect x="39.7" y="231.26" width="12.5" height="2.2" rx="1" fill="#12847d"/>
<rect x="94.7" y="231.26" width="40.1" height="2.2" rx="1" fill="#f7c502"/>
<rect x="142.8" y="230.76" width="2.6" height="3.2" fill="#545454"/>
<path d="M144.10 230.76v3.2M142.8 232.36h2.6" stroke="#959595" stroke-width="0.45"/>
<rect x="40.5" y="234.56" width="22.4" height="2.2" rx="1" fill="#12847d"/>
<rect x="81.6" y="234.56" width="42.1" height="2.2" rx="1" fill="#f7c502"/>
<rect x="132.4" y="234.06" width="2.5" height="3.2" fill="#545454"/>
<path d="M133.65 234.06v3.2M132.4 235.66h2.5" stroke="#959595" stroke-width="0.45"/>
<rect x="66.6" y="237.87" width="20.5" height="2.2" rx="1" fill="#12847d"/>
<rect x="112.0" y="237.87" width="8.7" height="2.2" rx="1" fill="#e60a1a"/>
<rect x="119.5" y="237.87" width="1.2" height="2.2" fill="#e60a1a"/>
<rect x="120.7" y="237.87" width="10.7" height="2.2" rx="1" fill="#958bb0"/>
<rect x="120.7" y="237.87" width="1.2" height="2.2" fill="#958bb0"/>
<rect x="135.1" y="237.87" width="38.4" height="2.2" rx="1" fill="#f7c502"/>
<rect x="185.05" y="236.97" width="1.9" height="3.8" fill="#5e5e5e"/>
<rect x="43.0" y="241.18" width="21.6" height="2.2" rx="1" fill="#12847d"/>
<rect x="136.9" y="241.18" width="8.2" height="2.2" rx="1" fill="#6f7d92"/>
<rect x="234.0" y="240.68" width="3.7" height="3.2" fill="#545454"/>
<path d="M235.85 240.68v3.2M234.0 242.28h3.7" stroke="#959595" stroke-width="0.45"/>
<rect x="61.7" y="244.48" width="19.9" height="2.2" rx="1" fill="#12847d"/>
<rect x="121.9" y="243.98" width="3.5" height="3.2" fill="#545454"/>
<path d="M123.65 243.98v3.2M121.9 245.58h3.5" stroke="#959595" stroke-width="0.45"/>
<rect x="73.4" y="247.79" width="19.9" height="2.2" rx="1" fill="#12847d"/>
<rect x="129.4" y="247.79" width="27.4" height="2.2" rx="1" fill="#f08ba2"/>
<rect x="160.5" y="247.29" width="3.5" height="3.2" fill="#545454"/>
<path d="M162.25 247.29v3.2M160.5 248.89h3.5" stroke="#959595" stroke-width="0.45"/>
<rect x="60.9" y="251.09" width="20.4" height="2.2" rx="1" fill="#12847d"/>
<rect x="93.1" y="250.59" width="3.4" height="3.2" fill="#545454"/>
<path d="M94.80 250.59v3.2M93.1 252.19h3.4" stroke="#959595" stroke-width="0.45"/>
<rect x="40.5" y="254.40" width="20.4" height="2.2" rx="1" fill="#12847d"/>
<rect x="106.5" y="254.40" width="42.8" height="2.2" rx="1" fill="#f7c502"/>
<rect x="156.0" y="253.90" width="2.1" height="3.2" fill="#545454"/>
<path d="M157.05 253.90v3.2M156.0 255.50h2.1" stroke="#959595" stroke-width="0.45"/>
<rect x="43.0" y="257.71" width="20.9" height="2.2" rx="1" fill="#12847d"/>
<rect x="136.9" y="257.71" width="8.2" height="2.2" rx="1" fill="#6f7d92"/>
<rect x="247.7" y="257.21" width="3.7" height="3.2" fill="#545454"/>
<path d="M249.55 257.21v3.2M247.7 258.81h3.7" stroke="#959595" stroke-width="0.45"/>
<rect x="60.9" y="261.01" width="20.4" height="2.2" rx="1" fill="#12847d"/>
<rect x="110.2" y="261.01" width="20.9" height="2.2" rx="1" fill="#958bb0"/>
<rect x="129.9" y="261.01" width="1.2" height="2.2" fill="#958bb0"/>
<rect x="131.1" y="261.01" width="42.9" height="2.2" rx="1" fill="#f7c502"/>
<rect x="131.1" y="261.01" width="1.2" height="2.2" fill="#f7c502"/>
<rect x="204.0" y="260.51" width="2.6" height="3.2" fill="#545454"/>
<path d="M205.30 260.51v3.2M204.0 262.11h2.6" stroke="#959595" stroke-width="0.45"/>
<rect x="60.9" y="264.32" width="20.4" height="2.2" rx="1" fill="#12847d"/>
<rect x="93.1" y="263.82" width="3.4" height="3.2" fill="#545454"/>
<path d="M94.80 263.82v3.2M93.1 265.42h3.4" stroke="#959595" stroke-width="0.45"/>
<rect x="44.2" y="267.62" width="18.7" height="2.2" rx="1" fill="#12847d"/>
<rect x="88.4" y="267.62" width="21.8" height="2.2" rx="1" fill="#958bb0"/>
<rect x="109.0" y="267.62" width="1.2" height="2.2" fill="#958bb0"/>
<rect x="110.2" y="267.62" width="42.9" height="2.2" rx="1" fill="#f7c502"/>
<rect x="110.2" y="267.62" width="1.2" height="2.2" fill="#f7c502"/>
<rect x="180.2" y="267.12" width="1.8" height="3.2" fill="#545454"/>
<path d="M181.10 267.12v3.2M180.2 268.72h1.8" stroke="#959595" stroke-width="0.45"/>
<rect x="56.5" y="270.93" width="21.9" height="2.2" rx="1" fill="#12847d"/>
<rect x="97.8" y="270.43" width="3.4" height="3.2" fill="#545454"/>
<path d="M99.50 270.43v3.2M97.8 272.03h3.4" stroke="#959595" stroke-width="0.45"/>
<rect x="69.1" y="274.24" width="20.0" height="2.2" rx="1" fill="#12847d"/>
<rect x="114.2" y="274.24" width="19.1" height="2.2" rx="1" fill="#958bb0"/>
<rect x="132.1" y="274.24" width="1.2" height="2.2" fill="#958bb0"/>
<rect x="133.3" y="274.24" width="40.9" height="2.2" rx="1" fill="#f7c502"/>
<rect x="133.3" y="274.24" width="1.2" height="2.2" fill="#f7c502"/>
<rect x="186.75" y="273.34" width="1.9" height="3.8" fill="#5e5e5e"/>
<rect x="67.3" y="277.54" width="20.0" height="2.2" rx="1" fill="#12847d"/>
<rect x="112.7" y="277.54" width="14.2" height="2.2" rx="1" fill="#958bb0"/>
<rect x="125.7" y="277.54" width="1.2" height="2.2" fill="#958bb0"/>
<rect x="126.9" y="277.54" width="8.7" height="2.2" rx="1" fill="#e60a1a"/>
<rect x="126.9" y="277.54" width="1.2" height="2.2" fill="#e60a1a"/>
<rect x="134.4" y="277.54" width="1.2" height="2.2" fill="#e60a1a"/>
<rect x="135.6" y="277.54" width="38.4" height="2.2" rx="1" fill="#f7c502"/>
<rect x="135.6" y="277.54" width="1.2" height="2.2" fill="#f7c502"/>
<rect x="185.50" y="276.64" width="1.9" height="3.8" fill="#5e5e5e"/>
<rect x="69.1" y="280.85" width="20.0" height="2.2" rx="1" fill="#12847d"/>
<rect x="114.2" y="280.85" width="20.0" height="2.2" rx="1" fill="#958bb0"/>
<rect x="133.0" y="280.85" width="1.2" height="2.2" fill="#958bb0"/>
<rect x="134.2" y="280.85" width="39.8" height="2.2" rx="1" fill="#f7c502"/>
<rect x="134.2" y="280.85" width="1.2" height="2.2" fill="#f7c502"/>
<rect x="188.4" y="280.35" width="1.8" height="3.2" fill="#545454"/>
<path d="M189.30 280.35v3.2M188.4 281.95h1.8" stroke="#959595" stroke-width="0.45"/>
<rect x="41.1" y="284.15" width="22.7" height="2.2" rx="1" fill="#12847d"/>
<rect x="85.1" y="284.15" width="42.2" height="2.2" rx="1" fill="#f7c502"/>
<rect x="136.7" y="283.65" width="1.9" height="3.2" fill="#545454"/>
<path d="M137.65 283.65v3.2M136.7 285.25h1.9" stroke="#959595" stroke-width="0.45"/>
<rect x="230.4" y="287.46" width="19.2" height="2.2" rx="1" fill="#404fa0"/>
<rect x="248.4" y="287.46" width="1.2" height="2.2" fill="#404fa0"/>
<rect x="249.6" y="287.46" width="2.0" height="2.2" rx="1" fill="#b2e022"/>
<rect x="249.6" y="287.46" width="1.0" height="2.2" fill="#b2e022"/>
<rect x="250.6" y="287.46" width="1.0" height="2.2" fill="#b2e022"/>
<rect x="251.6" y="287.46" width="16.4" height="2.2" rx="1" fill="#5fd9b3"/>
<rect x="251.6" y="287.46" width="1.2" height="2.2" fill="#5fd9b3"/>
<rect x="266.8" y="287.46" width="1.2" height="2.2" fill="#5fd9b3"/>
<rect x="268.0" y="287.46" width="1.2" height="2.2" rx="1" fill="#b2e022"/>
<rect x="268.0" y="287.46" width="0.6" height="2.2" fill="#b2e022"/>
<rect x="268.6" y="287.46" width="0.6" height="2.2" fill="#b2e022"/>
<rect x="269.2" y="287.46" width="26.8" height="2.2" rx="1" fill="#404fa0"/>
<rect x="269.2" y="287.46" width="1.2" height="2.2" fill="#404fa0"/>
<rect x="328.7" y="287.46" width="20.9" height="2.2" rx="1" fill="#a9da5c"/>
<rect x="348.4" y="287.46" width="1.2" height="2.2" fill="#a9da5c"/>
<rect x="349.2" y="287.46" width="1.4" height="2.2" rx="1" fill="#404fa0"/>
<rect x="349.2" y="287.46" width="0.7" height="2.2" fill="#404fa0"/>
<rect x="375.3" y="287.46" width="26.9" height="2.2" rx="1" fill="#12847d"/>
<rect x="423.3" y="286.96" width="3.8" height="3.2" fill="#545454"/>
<path d="M425.20 286.96v3.2M423.3 288.56h3.8" stroke="#959595" stroke-width="0.45"/>
<rect x="72.0" y="290.77" width="20.4" height="2.2" rx="1" fill="#12847d"/>
<rect x="110.5" y="290.77" width="127.5" height="2.2" rx="1" fill="#2aa7df"/>
<rect x="267.0" y="290.27" width="3.5" height="3.2" fill="#545454"/>
<path d="M268.75 290.27v3.2M267.0 291.87h3.5" stroke="#959595" stroke-width="0.45"/>
<rect x="41.1" y="294.07" width="21.8" height="2.2" rx="1" fill="#12847d"/>
<rect x="81.8" y="294.07" width="42.4" height="2.2" rx="1" fill="#f7c502"/>
<rect x="132.6" y="293.57" width="2.2" height="3.2" fill="#545454"/>
<path d="M133.70 293.57v3.2M132.6 295.17h2.2" stroke="#959595" stroke-width="0.45"/>
<rect x="55.1" y="297.38" width="21.4" height="2.2" rx="1" fill="#12847d"/>
<rect x="90.5" y="296.88" width="3.4" height="3.2" fill="#545454"/>
<path d="M92.20 296.88v3.2M90.5 298.48h3.4" stroke="#959595" stroke-width="0.45"/>
<rect x="46.9" y="300.68" width="20.0" height="2.2" rx="1" fill="#12847d"/>
<rect x="175.6" y="300.18" width="3.6" height="3.2" fill="#545454"/>
<path d="M177.40 300.18v3.2M175.6 301.78h3.6" stroke="#959595" stroke-width="0.45"/>
<rect x="43.3" y="303.99" width="21.4" height="2.2" rx="1" fill="#12847d"/>
<rect x="162.2" y="303.99" width="49.1" height="2.2" rx="1" fill="#f6b892"/>
<rect x="215.2" y="303.49" width="3.4" height="3.2" fill="#545454"/>
<path d="M216.90 303.49v3.2M215.2 305.09h3.4" stroke="#959595" stroke-width="0.45"/>
<rect x="61.5" y="307.30" width="20.0" height="2.2" rx="1" fill="#12847d"/>
<rect x="110.2" y="307.30" width="21.0" height="2.2" rx="1" fill="#958bb0"/>
<rect x="130.0" y="307.30" width="1.2" height="2.2" fill="#958bb0"/>
<rect x="131.2" y="307.30" width="41.9" height="2.2" rx="1" fill="#f7c502"/>
<rect x="131.2" y="307.30" width="1.2" height="2.2" fill="#f7c502"/>
<rect x="213.9" y="306.80" width="1.9" height="3.2" fill="#545454"/>
<path d="M214.85 306.80v3.2M213.9 308.40h1.9" stroke="#959595" stroke-width="0.45"/>
<rect x="69.1" y="310.60" width="20.0" height="2.2" rx="1" fill="#12847d"/>
<rect x="113.8" y="310.60" width="19.6" height="2.2" rx="1" fill="#958bb0"/>
<rect x="132.2" y="310.60" width="1.2" height="2.2" fill="#958bb0"/>
<rect x="133.4" y="310.60" width="41.9" height="2.2" rx="1" fill="#f7c502"/>
<rect x="133.4" y="310.60" width="1.2" height="2.2" fill="#f7c502"/>
<rect x="187.3" y="310.10" width="1.9" height="3.2" fill="#545454"/>
<path d="M188.25 310.10v3.2M187.3 311.70h1.9" stroke="#959595" stroke-width="0.45"/>
<rect x="42.9" y="313.91" width="22.2" height="2.2" rx="1" fill="#12847d"/>
<rect x="118.2" y="313.41" width="3.5" height="3.2" fill="#545454"/>
<path d="M119.95 313.41v3.2M118.2 315.01h3.5" stroke="#959595" stroke-width="0.45"/>
<rect x="233.0" y="317.21" width="64.0" height="2.2" rx="1" fill="#404fa0"/>
<rect x="326.2" y="317.21" width="21.7" height="2.2" rx="1" fill="#2470cc"/>
<rect x="372.8" y="317.21" width="27.4" height="2.2" rx="1" fill="#12847d"/>
<rect x="421.0" y="316.71" width="3.8" height="3.2" fill="#545454"/>
<path d="M422.90 316.71v3.2M421.0 318.31h3.8" stroke="#959595" stroke-width="0.45"/>
<rect x="61.5" y="320.52" width="21.4" height="2.2" rx="1" fill="#12847d"/>
<rect x="219.4" y="320.02" width="3.6" height="3.2" fill="#545454"/>
<path d="M221.20 320.02v3.2M219.4 321.62h3.6" stroke="#959595" stroke-width="0.45"/>
<rect x="61.5" y="323.83" width="20.0" height="2.2" rx="1" fill="#12847d"/>
<rect x="188.0" y="323.83" width="67.0" height="2.2" rx="1" fill="#f59c0e"/>
<rect x="270.0" y="323.33" width="3.6" height="3.2" fill="#545454"/>
<path d="M271.80 323.33v3.2M270.0 324.93h3.6" stroke="#959595" stroke-width="0.45"/>
<rect x="46.9" y="327.13" width="20.9" height="2.2" rx="1" fill="#12847d"/>
<rect x="132.8" y="326.63" width="3.5" height="3.2" fill="#545454"/>
<path d="M134.55 326.63v3.2M132.8 328.23h3.5" stroke="#959595" stroke-width="0.45"/>
<rect x="66.9" y="330.44" width="20.4" height="2.2" rx="1" fill="#12847d"/>
<rect x="112.4" y="330.44" width="14.5" height="2.2" rx="1" fill="#958bb0"/>
<rect x="125.7" y="330.44" width="1.2" height="2.2" fill="#958bb0"/>
<rect x="126.9" y="330.44" width="9.1" height="2.2" rx="1" fill="#e60a1a"/>
<rect x="126.9" y="330.44" width="1.2" height="2.2" fill="#e60a1a"/>
<rect x="134.8" y="330.44" width="1.2" height="2.2" fill="#e60a1a"/>
<rect x="136.0" y="330.44" width="39.0" height="2.2" rx="1" fill="#f7c502"/>
<rect x="136.0" y="330.44" width="1.2" height="2.2" fill="#f7c502"/>
<rect x="186.90" y="329.54" width="1.9" height="3.8" fill="#5e5e5e"/>
<rect x="64.2" y="333.74" width="20.0" height="2.2" rx="1" fill="#12847d"/>
<rect x="94.5" y="333.74" width="18.8" height="2.2" rx="1" fill="#4e0509"/>
<rect x="205.0" y="333.24" width="3.5" height="3.2" fill="#545454"/>
<path d="M206.75 333.24v3.2M205.0 334.84h3.5" stroke="#959595" stroke-width="0.45"/>
<rect x="41.5" y="337.05" width="20.3" height="2.2" rx="1" fill="#12847d"/>
<rect x="82.9" y="337.05" width="59.1" height="2.2" rx="1" fill="#1d5c0e"/>
<rect x="167.3" y="336.55" width="3.5" height="3.2" fill="#545454"/>
<path d="M169.05 336.55v3.2M167.3 338.15h3.5" stroke="#959595" stroke-width="0.45"/>
<rect x="58.2" y="340.36" width="20.0" height="2.2" rx="1" fill="#12847d"/>
<rect x="142.3" y="339.86" width="3.5" height="3.2" fill="#545454"/>
<path d="M144.05 339.86v3.2M142.3 341.46h3.5" stroke="#959595" stroke-width="0.45"/>
<rect x="49.6" y="343.66" width="20.0" height="2.2" rx="1" fill="#12847d"/>
<rect x="118.2" y="343.66" width="47.4" height="2.2" rx="1" fill="#a722e0"/>
<rect x="232.0" y="343.16" width="3.8" height="3.2" fill="#545454"/>
<path d="M233.90 343.16v3.2M232.0 344.76h3.8" stroke="#959595" stroke-width="0.45"/>
<rect x="162.7" y="346.97" width="20.3" height="2.2" rx="1" fill="#12847d"/>
<rect x="206.4" y="346.47" width="3.6" height="3.2" fill="#545454"/>
<path d="M208.20 346.47v3.2M206.4 348.07h3.6" stroke="#959595" stroke-width="0.45"/>
<rect x="39.6" y="350.27" width="20.9" height="2.2" rx="1" fill="#12847d"/>
<rect x="107.8" y="350.27" width="41.8" height="2.2" rx="1" fill="#f7c502"/>
<rect x="152.5" y="349.77" width="1.9" height="3.2" fill="#545454"/>
<path d="M153.45 349.77v3.2M152.5 351.37h1.9" stroke="#959595" stroke-width="0.45"/>
<rect x="41.1" y="353.58" width="21.8" height="2.2" rx="1" fill="#12847d"/>
<rect x="84.7" y="353.58" width="42.6" height="2.2" rx="1" fill="#f7c502"/>
<rect x="136.5" y="353.08" width="1.9" height="3.2" fill="#545454"/>
<path d="M137.45 353.08v3.2M136.5 354.68h1.9" stroke="#959595" stroke-width="0.45"/>
<rect x="42.9" y="356.89" width="22.2" height="2.2" rx="1" fill="#12847d"/>
<rect x="115.1" y="356.39" width="3.6" height="3.2" fill="#545454"/>
<path d="M116.90 356.39v3.2M115.1 357.99h3.6" stroke="#959595" stroke-width="0.45"/>
<rect x="52.7" y="360.19" width="20.6" height="2.2" rx="1" fill="#12847d"/>
<rect x="87.6" y="359.69" width="3.4" height="3.2" fill="#545454"/>
<path d="M89.30 359.69v3.2M87.6 361.29h3.4" stroke="#959595" stroke-width="0.45"/>
<rect x="60.5" y="363.50" width="20.6" height="2.2" rx="1" fill="#12847d"/>
<rect x="104.2" y="363.50" width="21.8" height="2.2" rx="1" fill="#958bb0"/>
<rect x="124.8" y="363.50" width="1.2" height="2.2" fill="#958bb0"/>
<rect x="126.0" y="363.50" width="39.3" height="2.2" rx="1" fill="#f7c502"/>
<rect x="126.0" y="363.50" width="1.2" height="2.2" fill="#f7c502"/>
<rect x="187.2" y="363.00" width="2.2" height="3.2" fill="#545454"/>
<path d="M188.30 363.00v3.2M187.2 364.60h2.2" stroke="#959595" stroke-width="0.45"/>
<rect x="65.1" y="366.80" width="20.0" height="2.2" rx="1" fill="#12847d"/>
<rect x="110.9" y="366.80" width="20.6" height="2.2" rx="1" fill="#958bb0"/>
<rect x="130.3" y="366.80" width="1.2" height="2.2" fill="#958bb0"/>
<rect x="131.5" y="366.80" width="42.1" height="2.2" rx="1" fill="#f7c502"/>
<rect x="131.5" y="366.80" width="1.2" height="2.2" fill="#f7c502"/>
<rect x="184.1" y="366.30" width="1.9" height="3.2" fill="#545454"/>
<path d="M185.05 366.30v3.2M184.1 367.90h1.9" stroke="#959595" stroke-width="0.45"/>
<rect x="61.1" y="370.11" width="21.3" height="2.2" rx="1" fill="#12847d"/>
<rect x="94.7" y="369.61" width="3.8" height="3.2" fill="#545454"/>
<path d="M96.60 369.61v3.2M94.7 371.21h3.8" stroke="#959595" stroke-width="0.45"/>
<line x1="39.3" y1="374.5" x2="435.8" y2="374.5" stroke="#7a7a7a" stroke-width="0.9"/>
<path d="M37.2 372.3L38.2 374.3M436.6 371.8L435.6 374.4" stroke="#555" stroke-width="0.7" fill="none"/>
<g font-size="3.9" fill="#222" stroke="#222" stroke-width="0.16" text-anchor="middle">
<text x="39.7" y="378.4" transform="rotate(0.3 39.3 377)">0</text>
<text x="105.7" y="378.4" transform="rotate(0.3 105.3 377)">200</text>
<text x="171.7" y="378.4" transform="rotate(0.3 171.3 377)">400</text>
<text x="237.7" y="378.4" transform="rotate(0.3 237.3 377)">600</text>
<text x="303.7" y="378.4" transform="rotate(0.3 303.3 377)">800</text>
<text x="369.7" y="378.4" transform="rotate(0.3 369.3 377)">1000</text>
<text x="435.7" y="378.4" transform="rotate(0.3 435.3 377)">1200</text>
</g>
<g font-size="4.43" fill="#222" stroke="#222" stroke-width="0.08">
<rect x="468.6" y="3.20" width="26.3" height="1.8" rx="0.9" fill="#5ea832"/>
<text transform="matrix(0.88 0.0046 0 1 499 5.60)">DnaJ_C</text>
<rect x="468.6" y="6.52" width="26.3" height="1.8" rx="0.9" fill="#f7c502"/>
<text transform="matrix(0.88 0.0046 0 1 499 8.92)">DnaJ_C superfamily</text>
<rect x="468.6" y="9.84" width="26.3" height="1.8" rx="0.9" fill="#e6557b"/>
<text transform="matrix(0.88 0.0046 0 1 499 12.24)">DnaJ</text>
<rect x="468.6" y="13.15" width="26.3" height="1.8" rx="0.9" fill="#12847d"/>
<text transform="matrix(0.88 0.0046 0 1 499 15.55)">DnaJ superfamily</text>
<rect x="468.6" y="16.47" width="26.3" height="1.8" rx="0.9" fill="#e60a1a"/>
<text transform="matrix(0.88 0.0046 0 1 499 18.87)">DnaJ_CXXCXGXG</text>
<rect x="468.6" y="19.79" width="26.3" height="1.8" rx="0.9" fill="#958bb0"/>
<text transform="matrix(0.88 0.0046 0 1 499 22.19)">DnaJ_zf superfamily</text>
<rect x="468.6" y="23.11" width="26.3" height="1.8" rx="0.9" fill="#a6d96a"/>
<text transform="matrix(0.88 0.0046 0 1 499 25.51)">DUF3444</text>
<rect x="468.6" y="26.43" width="26.3" height="1.8" rx="0.9" fill="#f59c0e"/>
<text transform="matrix(0.88 0.0046 0 1 499 28.83)">DUF3444 superfamily</text>
<rect x="468.6" y="29.74" width="26.3" height="1.8" rx="0.9" fill="#4a2a88"/>
<text transform="matrix(0.88 0.0046 0 1 499 32.14)">DUF3395</text>
<rect x="468.6" y="33.06" width="26.3" height="1.8" rx="0.9" fill="#f6b892"/>
<text transform="matrix(0.88 0.0046 0 1 499 35.46)">DUF3395 superfamily</text>
<rect x="468.6" y="36.38" width="26.3" height="1.8" rx="0.9" fill="#8b8a70"/>
<text transform="matrix(0.88 0.0046 0 1 499 38.78)">Tropomyosin_1</text>
<rect x="468.6" y="39.70" width="26.3" height="1.8" rx="0.9" fill="#c2532c"/>
<text transform="matrix(0.88 0.0046 0 1 499 42.10)">Tropomyosin_1 superfamily</text>
<rect x="468.6" y="43.02" width="26.3" height="1.8" rx="0.9" fill="#3dbb8a"/>
<text transform="matrix(0.88 0.0046 0 1 499 45.42)">DUF1977</text>
<rect x="468.6" y="46.33" width="26.3" height="1.8" rx="0.9" fill="#f08ba2"/>
<text transform="matrix(0.88 0.0046 0 1 499 48.73)">DUF1977 superfamily</text>
<rect x="468.6" y="49.65" width="26.3" height="1.8" rx="0.9" fill="#2470cc"/>
<text transform="matrix(0.88 0.0046 0 1 499 52.05)">Fer4_13</text>
<rect x="468.6" y="52.97" width="26.3" height="1.8" rx="0.9" fill="#a80c0c"/>
<text transform="matrix(0.88 0.0046 0 1 499 55.37)">Fer4_15 superfamily</text>
<rect x="468.6" y="56.29" width="26.3" height="1.8" rx="0.9" fill="#4e0509"/>
<text transform="matrix(0.88 0.0046 0 1 499 58.69)">Fer4_15</text>
<rect x="468.6" y="59.61" width="26.3" height="1.8" rx="0.9" fill="#5c7a1c"/>
<text transform="matrix(0.88 0.0046 0 1 499 62.01)">Transglut_act</text>
<rect x="468.6" y="62.92" width="26.3" height="1.8" rx="0.9" fill="#161537"/>
<text transform="matrix(0.88 0.0046 0 1 499 65.32)">Transglut_act superfamily</text>
<rect x="468.6" y="66.24" width="26.3" height="1.8" rx="0.9" fill="#b87a3a"/>
<text transform="matrix(0.88 0.0046 0 1 499 68.64)">Sec63</text>
<rect x="468.6" y="69.56" width="26.3" height="1.8" rx="0.9" fill="#2aa7df"/>
<text transform="matrix(0.88 0.0046 0 1 499 71.96)">Sec63 superfamily</text>
<rect x="468.6" y="72.88" width="26.3" height="1.8" rx="0.9" fill="#1f4fd6"/>
<text transform="matrix(0.88 0.0046 0 1 499 75.28)">DnaJ-X</text>
<rect x="468.6" y="76.20" width="26.3" height="1.8" rx="0.9" fill="#1d5c0e"/>
<text transform="matrix(0.88 0.0046 0 1 499 78.60)">DnaJ-X superfamily</text>
<rect x="468.6" y="79.51" width="26.3" height="1.8" rx="0.9" fill="#e5533d"/>
<text transform="matrix(0.88 0.0046 0 1 499 81.91)">TPR_1</text>
<rect x="468.6" y="82.83" width="26.3" height="1.8" rx="0.9" fill="#2f7bb5"/>
<text transform="matrix(0.88 0.0046 0 1 499 85.23)">TPR_1 superfamily</text>
<rect x="468.6" y="86.15" width="26.3" height="1.8" rx="0.9" fill="#e03aa6"/>
<text transform="matrix(0.88 0.0046 0 1 499 88.55)">RPT</text>
<rect x="468.6" y="89.47" width="26.3" height="1.8" rx="0.9" fill="#f4a8c6"/>
<text transform="matrix(0.88 0.0046 0 1 499 91.87)">RPT superfamily</text>
<rect x="468.6" y="92.79" width="26.3" height="1.8" rx="0.9" fill="#2d6b2a"/>
<text transform="matrix(0.88 0.0046 0 1 499 95.19)">Thioredoxin_8</text>
<rect x="468.6" y="96.10" width="26.3" height="1.8" rx="0.9" fill="#a722e0"/>
<text transform="matrix(0.88 0.0046 0 1 499 98.50)">Thioredoxin_8 superfamily</text>
<rect x="468.6" y="99.42" width="26.3" height="1.8" rx="0.9" fill="#8e2a9c"/>
<text transform="matrix(0.88 0.0046 0 1 499 101.82)">zf-CHCC_sal</text>
<rect x="468.6" y="102.74" width="26.3" height="1.8" rx="0.9" fill="#24493a"/>
<text transform="matrix(0.88 0.0046 0 1 499 105.14)">zf-CHCC_sal superfamily</text>
<rect x="468.6" y="106.06" width="26.3" height="1.8" rx="0.9" fill="#6f7d92"/>
<text transform="matrix(0.88 0.0046 0 1 499 108.46)">SHSP</text>
<rect x="468.6" y="109.38" width="26.3" height="1.8" rx="0.9" fill="#b2e022"/>
<text transform="matrix(0.88 0.0046 0 1 499 111.78)">TPR_MalT</text>
<rect x="468.6" y="112.69" width="26.3" height="1.8" rx="0.9" fill="#404fa0"/>
<text transform="matrix(0.88 0.0046 0 1 499 115.09)">TPR_MalT superfamily</text>
<rect x="468.6" y="116.01" width="26.3" height="1.8" rx="0.9" fill="#7a4a12"/>
<text transform="matrix(0.88 0.0046 0 1 499 118.41)">TPR_11</text>
<rect x="468.6" y="119.33" width="26.3" height="1.8" rx="0.9" fill="#a4e05e"/>
<text transform="matrix(0.88 0.0046 0 1 499 121.73)">TPR_11 superfamily</text>
<rect x="468.6" y="122.65" width="26.3" height="1.8" rx="0.9" fill="#e21d35"/>
<text transform="matrix(0.88 0.0046 0 1 499 125.05)">TPR_16</text>
<rect x="468.6" y="125.97" width="26.3" height="1.8" rx="0.9" fill="#5fd9b3"/>
<text transform="matrix(0.88 0.0046 0 1 499 128.37)">TPR_16 superfamily</text>
<rect x="468.6" y="129.28" width="26.3" height="1.8" rx="0.9" fill="#8a7a12"/>
<text transform="matrix(0.88 0.0046 0 1 499 131.68)">TPR_19</text>
<rect x="468.6" y="132.60" width="26.3" height="1.8" rx="0.9" fill="#1f60c4"/>
<text transform="matrix(0.88 0.0046 0 1 499 135.00)">TPR_19 superfamily</text>
</g>
</svg></body></html>
